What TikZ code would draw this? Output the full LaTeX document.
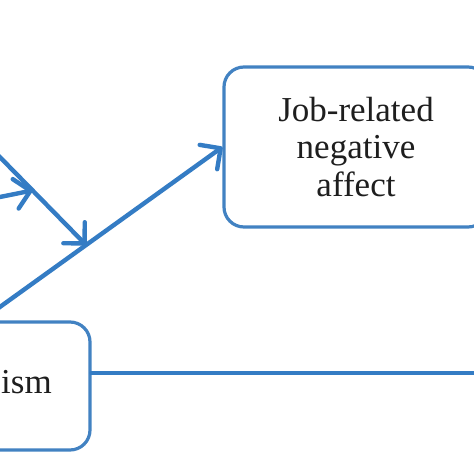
\documentclass[tikz,border=0pt]{standalone}
\usepackage{fontspec}
\setmainfont{Liberation Serif}
\usetikzlibrary{arrows.meta,calc}
\definecolor{lineblue}{RGB}{52,124,196}
\definecolor{boxblue}{RGB}{66,130,194}
\definecolor{txt}{RGB}{30,30,30}
\tikzset{
  box/.style={draw=boxblue, line width=3.2pt, rounded corners=20pt, fill=white,
    align=center, text=txt, font=\fontsize{35}{37.5}\selectfont, inner sep=0pt},
  lbl/.style={text=txt, font=\fontsize{35}{37.5}\selectfont, inner sep=0pt},
  conn/.style={draw=lineblue, line width=4.4pt, line cap=round, line join=round},
  arr/.style={conn, -{Straight Barb[length=15pt,width=30pt,line width=4.4pt,round]}}
}
\begin{document}
\begin{tikzpicture}[x=1pt,y=-1pt]
\useasboundingbox (0,0) rectangle (474,474);
\clip (0,0) rectangle (474,474);
\node[box, minimum width=264pt, minimum height=160pt] (job) at (356,147) {Job-related\\negative\\affect};
\node[box, minimum width=160pt, minimum height=128pt] (trait) at (10,386) {};
\node[lbl, anchor=base east] (traitlabel) at (52,393) {ism};
\coordinate (a0) at (-21,322);
\coordinate (c0) at (-10,147);
\coordinate (d0) at (-10,199);
\coordinate (r) at (490,373);
\coordinate (m) at ($(a0)!0.44!(job.west)$);
\coordinate (n) at ($(c0)!0.443!(m)$);
\draw[arr] (a0) -- (job.west);
\draw[arr] (c0) -- (m);
\draw[arr] (d0) -- (n);
\draw[conn] ([yshift=13pt]trait.east) -- (r);
\end{tikzpicture}
\end{document}
